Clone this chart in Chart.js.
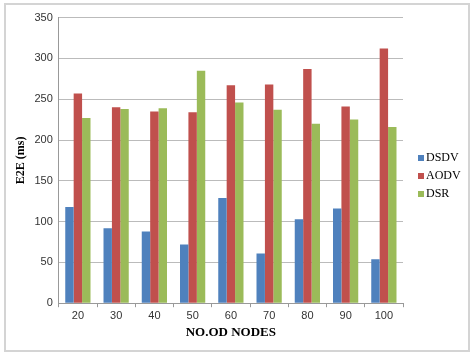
<!DOCTYPE html>
<html>
<head>
<meta charset="utf-8">
<script src="https://cdn.jsdelivr.net/npm/chart.js@4"></script>
<style>
  body { margin: 0; background: #fff; }
  #frame {
    position: absolute; left: 4px; top: 3px;
    width: 462px; height: 345px;
    border: 2px solid #d4d4d4;
  }
  #chart { display: block; }
</style>
</head>
<body>
<div id="frame"><canvas id="chart" width="462" height="345"></canvas></div>
<script>
const nodes = ['20', '30', '40', '50', '60', '70', '80', '90', '100'];
const dsdv = [118, 92, 88, 72, 129, 61, 103, 116, 54];
const aodv = [257, 240, 235, 234, 267, 268, 287, 241, 312];
const dsr = [227, 238, 239, 285, 246, 237, 220, 225, 216];

const tickFont = { family: 'Liberation Sans', size: 11 };

// excel style legend, sitting right of the plot
const sideLegend = {
    id: 'sideLegend',
    afterDraw(chart) {
        const ctx = chart.ctx;
        const x = chart.chartArea.right + 15;
        let y = 153;
        ctx.save();
        ctx.font = '12px "Liberation Serif"';
        ctx.textBaseline = 'middle';
        chart.data.datasets.forEach(ds => {
            ctx.fillStyle = ds.backgroundColor;
            ctx.fillRect(x, y - 3, 6, 6);
            ctx.fillStyle = '#000';
            ctx.fillText(ds.label, x + 8, y);
            y += 18;
        });
        ctx.restore();
    }
};

const config = {
    type: 'bar',
    data: {
        labels: nodes,
        datasets: [
            { label: 'DSDV', data: dsdv, backgroundColor: '#4F81BD' },
            { label: 'AODV', data: aodv, backgroundColor: '#C0504D' },
            { label: 'DSR', data: dsr, backgroundColor: '#9BBB59' }
        ]
    },
    options: {
        responsive: false,
        animation: false,
        layout: { padding: { top: 1, right: 65, left: 8, bottom: 10 } },
        datasets: { bar: { categoryPercentage: 0.66, barPercentage: 1 } },
        plugins: {
            tooltip: { enabled: false },
            legend: { display: false }
        },
        scales: {
            x: {
                grid: { display: true, drawOnChartArea: false, offset: true, tickLength: 4, color: '#999' },
                border: { color: '#999' },
                ticks: { color: '#333', font: tickFont, padding: 2 },
                title: {
                    display: true, text: 'NO.OD NODES', color: '#000',
                    font: { family: 'Liberation Serif', size: 13, weight: 'bold' },
                    padding: { top: 0, bottom: 0 }
                }
            },
            y: {
                min: 0, max: 350,
                ticks: { stepSize: 50, color: '#333', font: tickFont, padding: 6 },
                grid: { color: '#bbb', drawTicks: false },
                border: { color: '#999' },
                title: {
                    display: true, text: 'E2E (ms)', color: '#000',
                    font: { family: 'Liberation Serif', size: 12, weight: 'bold' },
                    padding: { top: 0, bottom: 0 }
                }
            }
        }
    },
    plugins: [sideLegend]
};

const myChart = new Chart(document.getElementById('chart'), config);
</script>
</body>
</html>
